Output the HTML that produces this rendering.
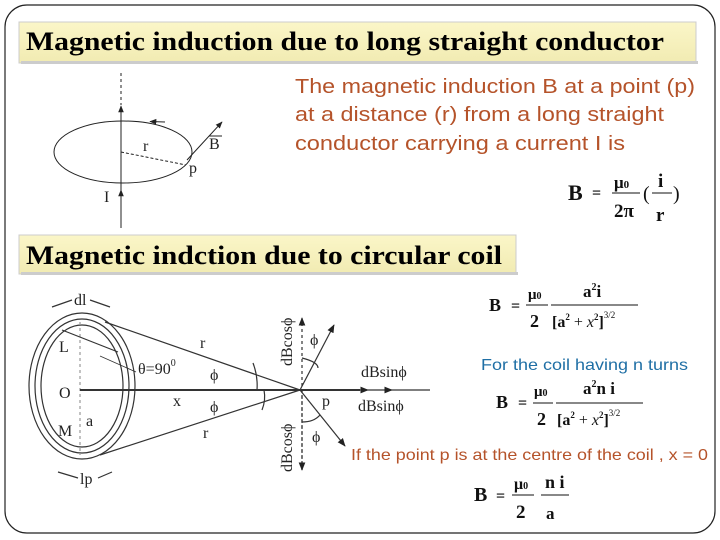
<!DOCTYPE html>
<html><head><meta charset="utf-8"><style>
body{margin:0;background:#fff;}
svg{display:block;font-family:"Liberation Serif",serif;}
.ban{fill:url(#g);}
</style></head><body>
<svg width="720" height="540" viewBox="0 0 720 540">
<defs>
<linearGradient id="g" x1="0" y1="0" x2="0" y2="1"><stop offset="0" stop-color="#fbf6c8"/><stop offset="1" stop-color="#f1ebb2"/></linearGradient>
<marker id="ah" viewBox="0 0 10 10" refX="9" refY="5" markerWidth="7" markerHeight="7" orient="auto"><path d="M0,1 L10,5 L0,9 Z" fill="#222"/></marker>
</defs>
<rect x="5" y="5" width="710" height="528" rx="22" fill="#fff" stroke="#222" stroke-width="1.2"/>
<!-- banners -->
<rect x="19" y="22" width="677" height="41" class="ban" stroke="#ccc" stroke-width="1"/>
<rect x="21" y="61" width="677" height="3" fill="#ccc"/>
<text x="26" y="50" font-size="26" font-weight="bold" textLength="638" lengthAdjust="spacingAndGlyphs">Magnetic induction due to long straight conductor</text>
<rect x="19" y="235" width="497" height="39" class="ban" stroke="#ccc" stroke-width="1"/>
<rect x="21" y="272" width="497" height="3" fill="#ccc"/>
<text x="26" y="264" font-size="26" font-weight="bold" textLength="476" lengthAdjust="spacingAndGlyphs">Magnetic indction due to circular coil</text>
<!-- text -->
<g fill="#b5532a" font-size="20" font-family="Liberation Sans,sans-serif">
<text x="295" y="93" textLength="400" lengthAdjust="spacingAndGlyphs">The magnetic induction B at a point (p)</text>
<text x="295" y="121" textLength="369" lengthAdjust="spacingAndGlyphs">at a distance (r) from a long straight</text>
<text x="295" y="150" textLength="330" lengthAdjust="spacingAndGlyphs">conductor carrying a current I is</text>
</g>
<!-- top diagram -->
<g stroke="#222" fill="none" stroke-width="1">
<line x1="121" y1="73" x2="121" y2="105" stroke-dasharray="3,3"/>
<line x1="121" y1="228" x2="121" y2="106" marker-end="url(#ah)"/>
<line x1="121" y1="228" x2="121" y2="190" marker-end="url(#ah)"/>
<ellipse cx="123" cy="152" rx="69" ry="31"/>
<line x1="121" y1="152" x2="186" y2="165" stroke-dasharray="3,2"/>
<line x1="187" y1="160" x2="222" y2="122" marker-end="url(#ah)"/>
<line x1="165" y1="122" x2="150" y2="121.5" marker-end="url(#ah)"/>
</g>
<g font-size="16" fill="#222">
<text x="143" y="151">r</text><text x="189" y="173">p</text>
<text x="209" y="149">B</text><line x1="209" y1="136" x2="222" y2="136" stroke="#222"/>
<text x="104" y="202">I</text>
</g>
<!-- formula 1 -->
<g font-family="Liberation Serif,serif" font-weight="bold" fill="#111">
<text x="568" y="200" font-size="22">B</text><text x="592" y="198" font-size="16">=</text>
<text x="614" y="188" font-size="17">μ<tspan font-size="11">0</tspan></text>
<line x1="612" y1="193" x2="640" y2="193" stroke="#111"/>
<text x="614" y="217" font-size="19">2π</text>
<text x="643" y="200" font-size="20" font-weight="normal">(</text>
<text x="658" y="187" font-size="19">i</text>
<line x1="652" y1="193" x2="672" y2="193" stroke="#111"/>
<text x="656" y="221" font-size="19">r</text>
<text x="673" y="200" font-size="20" font-weight="normal">)</text>
</g>
<!-- coil -->
<g stroke="#333" fill="none" stroke-width="1.2">
<ellipse cx="82" cy="386" rx="53" ry="73"/>
<ellipse cx="82" cy="386" rx="47" ry="67"/>
<ellipse cx="82" cy="386" rx="41" ry="61"/>
<line x1="80" y1="322" x2="80" y2="455" stroke-dasharray="3,3" stroke="#999"/>
<line x1="80" y1="390" x2="360" y2="390" stroke-width="2"/>
<line x1="105" y1="322" x2="300" y2="390"/>
<line x1="100" y1="455" x2="300" y2="390"/>
<line x1="62" y1="330" x2="118" y2="352"/>
<line x1="100" y1="356" x2="136" y2="372" stroke-width="0.8"/>
<path d="M253,363 Q258,376 257,390" /><path d="M264,390 Q266,400 262,410"/>
<line x1="302" y1="470" x2="302" y2="318" stroke-dasharray="3,3" marker-end="url(#ah)"/>
<line x1="302" y1="390" x2="302" y2="470" stroke-dasharray="3,3" marker-end="url(#ah)"/>
<line x1="300" y1="390" x2="334" y2="325" marker-end="url(#ah)"/>
<line x1="300" y1="390" x2="345" y2="446" marker-end="url(#ah)"/>
<line x1="360" y1="390" x2="368" y2="390" marker-end="url(#ah)"/>
<line x1="368" y1="390" x2="392" y2="390" marker-end="url(#ah)"/>
<line x1="392" y1="390" x2="430" y2="390"/>
<path d="M302,358 Q318,362 318,368"/><path d="M302,422 Q314,422 320,415"/>
<line x1="52" y1="307" x2="72" y2="300"/><line x1="90" y1="300" x2="110" y2="307"/>
<line x1="58" y1="472" x2="78" y2="478"/><line x1="98" y1="478" x2="112" y2="472"/>
</g>
<g font-size="16" fill="#222">
<text x="74" y="305">dl</text><text x="80" y="484">lp</text>
<text x="59" y="352">L</text><text x="59" y="398">O</text><text x="58" y="436">M</text>
<text x="86" y="426">a</text>
<text x="138" y="374">θ=90<tspan font-size="10" dy="-8">0</tspan></text>
<text x="200" y="348">r</text><text x="203" y="438">r</text>
<text x="173" y="406">x</text>
<text x="210" y="380">ϕ</text><text x="210" y="412">ϕ</text>
<text x="310" y="345">ϕ</text><text x="312" y="442">ϕ</text>
<text x="322" y="406">p</text>
<text x="361" y="377">dBsinϕ</text><text x="358" y="411">dBsinϕ</text>
<text transform="translate(292,366) rotate(-90)">dBcosϕ</text>
<text transform="translate(292,472) rotate(-90)">dBcosϕ</text>
</g>
<!-- right formulas -->
<g font-family="Liberation Serif,serif" font-weight="bold" fill="#111">
<text x="489" y="311" font-size="18">B</text><text x="511" y="311" font-size="16">=</text>
<text x="528" y="299" font-size="15">μ<tspan font-size="10">0</tspan></text>
<line x1="526" y1="305" x2="548" y2="305" stroke="#111"/>
<text x="530" y="327" font-size="18">2</text>
<text x="583" y="297" font-size="17">a<tspan font-size="10" dy="-7">2</tspan><tspan dy="7">i</tspan></text>
<line x1="551" y1="305" x2="638" y2="305" stroke="#111"/>
<text x="552" y="327" font-size="16">[a<tspan font-size="9" dy="-7">2</tspan><tspan dy="7" font-weight="normal"> + </tspan><tspan font-style="italic" font-weight="normal">x</tspan><tspan font-size="9" dy="-7">2</tspan><tspan dy="7">]</tspan><tspan font-size="9" dy="-9" font-weight="normal">3/2</tspan></text>

<text x="496" y="408" font-size="18">B</text><text x="518" y="408" font-size="16">=</text>
<text x="534" y="396" font-size="15">μ<tspan font-size="10">0</tspan></text>
<line x1="533" y1="403" x2="553" y2="403" stroke="#111"/>
<text x="537" y="425" font-size="18">2</text>
<text x="583" y="394" font-size="17">a<tspan font-size="10" dy="-7">2</tspan><tspan dy="7">n i</tspan></text>
<line x1="556" y1="403" x2="643" y2="403" stroke="#111"/>
<text x="557" y="425" font-size="16">[a<tspan font-size="9" dy="-7">2</tspan><tspan dy="7" font-weight="normal"> + </tspan><tspan font-style="italic" font-weight="normal">x</tspan><tspan font-size="9" dy="-7">2</tspan><tspan dy="7">]</tspan><tspan font-size="9" dy="-9" font-weight="normal">3/2</tspan></text>

<text x="474" y="501" font-size="20">B</text><text x="496" y="501" font-size="16">=</text>
<text x="514" y="489" font-size="16">μ<tspan font-size="10">0</tspan></text>
<line x1="512" y1="495" x2="534" y2="495" stroke="#111"/>
<text x="516" y="518" font-size="19">2</text>
<text x="545" y="488" font-size="18">n i</text>
<line x1="541" y1="495" x2="569" y2="495" stroke="#111"/>
<text x="546" y="519" font-size="17">a</text>
</g>
<g font-family="Liberation Sans,sans-serif" font-size="16">
<text x="481" y="370" fill="#1f6fa5" textLength="207" lengthAdjust="spacingAndGlyphs">For the coil having n turns</text>
<text x="351" y="460" fill="#b5532a" textLength="357" lengthAdjust="spacingAndGlyphs">If the point p is at the centre of the coil , x = 0</text>
</g>
</svg>
</body></html>
